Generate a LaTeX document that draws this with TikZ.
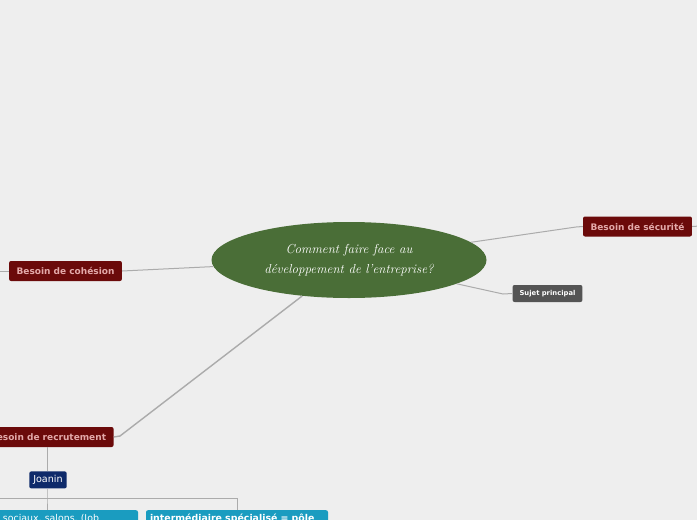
\documentclass[tikz,border=0pt]{standalone}
\usepackage{fontspec}
\setsansfont{DejaVu Sans}
\usetikzlibrary{calc}
\usetikzlibrary{shapes,arrows,positioning,shapes.geometric}

\definecolor{bgcol}{HTML}{EEEEEE}
\definecolor{maingreen}{HTML}{4A6E37}
\definecolor{besoinred}{HTML}{6B0A0A}
\definecolor{besointext}{HTML}{E3A9A9}
\definecolor{sujetgray}{HTML}{545454}
\definecolor{joaninblue}{HTML}{0E2A6A}
\definecolor{ideateal}{HTML}{1A9CC0}
\definecolor{linkgray}{HTML}{ABABAB}

\begin{document}
\begin{tikzpicture}[x=1pt, y=-1pt, node distance=24pt]
    % Define styles
    \tikzstyle{mainidea} = [ellipse, fill=maingreen, minimum width=275pt, minimum height=76pt, text=white, font=\fontsize{13}{20}\selectfont\itshape, align=center]
    \tikzstyle{besoin} = [rectangle, rounded corners=2pt, fill=besoinred, text=besointext, font=\sffamily\bfseries\fontsize{9}{10}\selectfont, minimum height=20pt, inner xsep=7.5pt]
    \tikzstyle{sujetbox} = [rectangle, rounded corners=2pt, fill=sujetgray, text=white, font=\sffamily\bfseries\fontsize{6.8}{8}\selectfont, minimum height=17pt, inner xsep=7pt]
    \tikzstyle{person} = [rectangle, rounded corners=2pt, fill=joaninblue, text=white, font=\sffamily\fontsize{9.6}{10}\selectfont, minimum height=17pt, inner xsep=4pt]
    \tikzstyle{idea} = [rectangle, rounded corners=2pt, fill=ideateal, text=white, text width=174pt, text depth=20pt, align=left, inner xsep=4pt, inner ysep=4pt, anchor=north, font=\sffamily\fontsize{9.4}{11}\selectfont]
    \tikzstyle{link} = [draw=linkgray, line width=1pt]

    % Canvas
    \useasboundingbox (0,0) rectangle (697,520);
    \fill[bgcol] (0,0) rectangle (697,520);
    \clip (0,0) rectangle (697,520);

    % Draw central topic
    \node[mainidea] (center) at (349,260) {Comment faire face au\\d\'eveloppement de l'entreprise?};

    % Draw main branches
    \node[besoin] (secu) at (637.5,226.5) {Besoin de s\'ecurit\'e};
    \node[sujetbox] (sujet) at (547.5,293.5) {Sujet principal};
    \node[besoin] (cohesion) at (65.5,271) {Besoin de coh\'esion};
    \node[besoin] (recrut) at (48,437) {Besoin de recrutement};

    % Draw sub topics under recruitment
    \node[person, below=of recrut] (joanin) {Joanin};
    \node[idea] (sociaux) at (47,510) {\phantom{R\'eseaux} sociaux, salons, (Job};
    \node[idea, font=\sffamily\bfseries\fontsize{9.4}{11}\selectfont] (inter) at (237,510) {interm\'ediaire sp\'ecialis\'e = p\^ole};

    % Bend points and loose ends
    \coordinate (secuin) at (576,227);
    \coordinate (secuout) at (700,226);
    \coordinate (sujetin) at (503,294);
    \coordinate (cohout) at (-3,271);
    \coordinate (recrutin) at (120,436);
    \coordinate (fork) at (47,498);
    \coordinate (forkleft) at (-5,498);

    % Draw the connectors
    \draw[link] (center) -- (secuin) -- (secu.west);
    \draw[link] (secu.east) -- (secuout);
    \draw[link] (center) -- (sujetin) -- (sujet.west);
    \draw[link] (center) -- (cohesion.east);
    \draw[link] (cohesion.west) -- (cohout);
    \draw[link, line width=1.4pt] (center) -- (recrutin) -- (recrut.east);
    \draw[link] (recrut.south -| fork) -- (joanin.north -| fork);
    \draw[link] (joanin.south -| fork) -- (fork) -- (sociaux.north);
    \draw[link] (forkleft) -| (inter.north);
\end{tikzpicture}
\end{document}
